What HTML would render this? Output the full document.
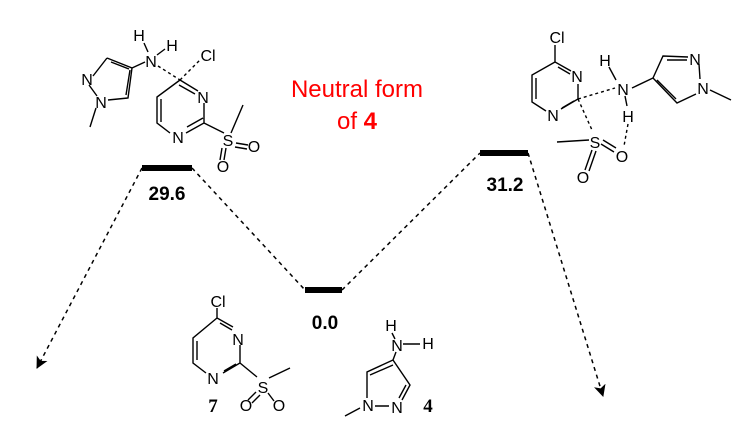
<!DOCTYPE html>
<html><head><meta charset="utf-8"><style>
html,body{margin:0;padding:0;background:#fff;}
svg{display:block;}
text{font-family:"Liberation Sans",Arial,sans-serif;}
.a{font-size:16px;fill:#000;}
.e{font-size:19px;font-weight:bold;fill:#000;}
</style></head><body>
<svg width="737" height="425" viewBox="0 0 737 425" xmlns="http://www.w3.org/2000/svg">
<defs><marker id="ar" markerWidth="12" markerHeight="12" refX="11" refY="6" orient="auto" markerUnits="userSpaceOnUse"><path d="M0,0 L12,6 L0,12 L3,6Z" fill="#000"/></marker></defs>
<g stroke="#000" stroke-width="1.4" fill="none">
<g stroke-dasharray="4,4" stroke-width="1.5">
<line x1="142" y1="168" x2="37" y2="368" marker-end="url(#ar)"/>
<line x1="192" y1="168" x2="305" y2="290"/>
<line x1="342" y1="290" x2="480" y2="153"/>
<line x1="528" y1="153" x2="603" y2="396" marker-end="url(#ar)"/>
</g>
<line x1="142" y1="168" x2="192" y2="168" stroke-width="6"/>
<line x1="305" y1="290" x2="342" y2="290" stroke-width="6"/>
<line x1="480" y1="153" x2="528" y2="153" stroke-width="6"/>

<path d="M107,58 L132,68 L128,98 L108,100 M111,62 L129,69 M130,70 L126,95 M93,76 L107,58 M89,85 L97,96 M96,108 L90,127 M132,68 L145,62"/>
<line x1="144" y1="43" x2="148" y2="52"/><line x1="157" y1="55" x2="165" y2="49"/>
<g stroke-dasharray="3,3"><line x1="158" y1="66" x2="180" y2="80"/><line x1="180" y1="80" x2="200" y2="60"/></g>
<path d="M180,80 L198,91 M179,85 L195,94 M204,103 L204,123 L186,133 M203,118 L187,127 M170,133 L157,123 L157,97 L180,80 M161,122 L161,99 M204,123 L224,133 M231,133 L243,105 M236,143 L248,145 M235,147 L247,149 M222,148 L220,160 M226,148 L224,160"/>

<path d="M555,45 L555,62 L571,71 M558,67 L570,74 M578,84 L578,99 L561,109 M574,101 L562,108 M546,111 L532,102 L532,75 L555,62 M536,99 L536,78"/>
<g stroke-dasharray="3,3"><line x1="578" y1="99" x2="615" y2="88"/><line x1="578" y1="99" x2="592" y2="130"/><line x1="628" y1="124" x2="624" y2="146"/></g>
<line x1="609" y1="67" x2="616" y2="80"/><line x1="625" y1="96" x2="627" y2="106"/>
<path d="M557,142 L589,140 M601,144 L614,152 M603,140 L616,148 M592,150 L585,170 M596,151 L589,171"/>
<path d="M632,88 L653,78 L663,56 L688,57 M667,60 L687,60 M653,78 L677,103 L696,94 M657,80 L676,99 M699,64 L700,79 M710,90 L731,100"/>

<path d="M217,308 L217,318 L233,327 M220,323 L232,330 M240,345 L240,363 L223,373 M236,364 L224,371 M206,373 L193,363 L193,338 L217,318 M197,360 L197,341 M240,363 L257,377 M269,378 L290,368 M256,392 L248,400 M260,395 L252,403 M268,393 L274,401"/>

<path d="M392,333 L395,339 M403,344 L420,344 M396,352 L393,360 L367,372 L367,398 M393,365 L370,375 M393,360 L410,385 L402,400 M406,385 L399,398 M375,406 L389,406 M360,408 L345,416"/>
</g>

<g class="a" text-anchor="middle">
<text x="139" y="41">H</text><text x="172" y="51">H</text><text x="151" y="67">N</text><text x="208" y="61">Cl</text>
<text x="87" y="85">N</text><text x="101" y="108">N</text>
<text x="203" y="103">N</text><text x="178" y="143">N</text><text x="228" y="146">S</text><text x="254" y="152">O</text><text x="223" y="172">O</text>
<text x="557" y="43">Cl</text><text x="577" y="82">N</text><text x="553" y="121">N</text><text x="605" y="66">H</text><text x="623" y="95">N</text><text x="628" y="122">H</text>
<text x="595" y="148">S</text><text x="622" y="162">O</text><text x="583" y="183">O</text>
<text x="695" y="65">N</text><text x="703" y="94">N</text>
<text x="218" y="307">Cl</text><text x="238" y="345">N</text><text x="213" y="384">N</text><text x="263" y="393">S</text><text x="246" y="411">O</text><text x="279" y="411">O</text>
<text x="391" y="331">H</text><text x="397" y="351">N</text><text x="428" y="349">H</text><text x="368" y="411">N</text><text x="397" y="413">N</text>
</g>
<text x="213" y="412" class="e" text-anchor="middle" style="font-family:'Liberation Serif',serif">7</text>
<text x="428" y="412" class="e" text-anchor="middle" style="font-family:'Liberation Serif',serif">4</text>

<text x="167" y="200" class="e" text-anchor="middle">29.6</text>
<text x="325" y="329" class="e" text-anchor="middle">0.0</text>
<text x="505" y="191" class="e" text-anchor="middle">31.2</text>

<text x="357" y="97" text-anchor="middle" style="font-size:24px;fill:#ff0000">Neutral form</text>
<text x="357" y="129" text-anchor="middle" style="font-size:24px;fill:#ff0000">of <tspan font-weight="bold">4</tspan></text>
</svg>
</body></html>
